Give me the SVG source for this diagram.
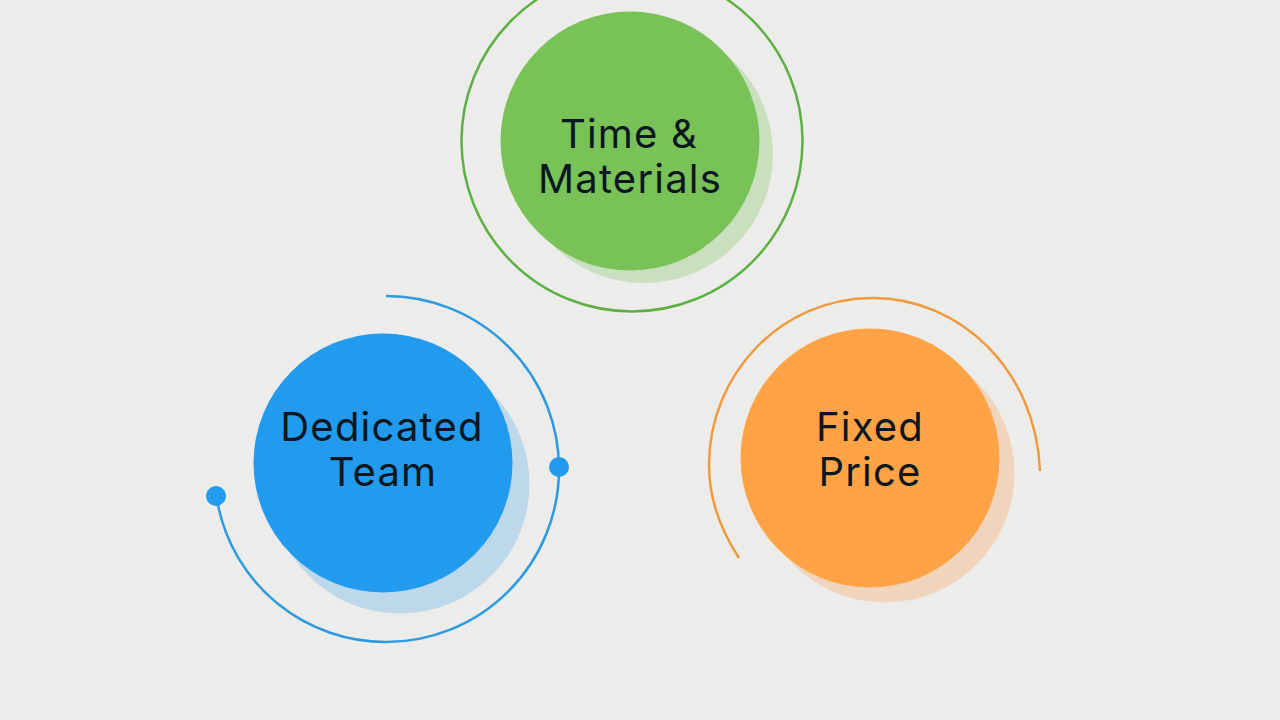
<svg xmlns="http://www.w3.org/2000/svg" width="1280" height="720" viewBox="0 0 1280 720">
<style>
text{font-family:"Inter","DejaVu Sans",sans-serif;font-size:40px;letter-spacing:1.2px;fill:#0a1620;text-anchor:middle}
.ring{fill:none;stroke-width:2.5;stroke-linecap:butt}
</style>
<rect width="1280" height="720" fill="#ececeb"/>
<g id="time-materials">
<circle cx="644" cy="154" r="129" fill="#c9e0bf"/>
<circle cx="630" cy="141" r="129.500" fill="#78c257"/>
<circle class="ring" cx="632" cy="141" r="170.500" stroke="#5cb043"/>
<text x="629" y="148">Time &amp;</text>
<text x="630" y="193">Materials</text>
</g>
<g id="dedicated-team">
<circle cx="400" cy="484" r="129.500" fill="#bcd8ea"/>
<circle cx="383" cy="463" r="129.500" fill="#229bee"/>
<path class="ring" stroke="#2d9ae0" d="M386 296A173 173 0 0 1 386 642A171 171 0 0 1 218 505"/>
<circle cx="559" cy="467" r="10" fill="#229bee"/>
<circle cx="216" cy="496" r="10" fill="#229bee"/>
<text x="382" y="441">Dedicated</text>
<text x="383" y="486">Team</text>
</g>
<g id="fixed-price">
<circle cx="885" cy="473" r="129.500" fill="#f0d4bc"/>
<circle cx="870" cy="458" r="129.500" fill="#ffa346"/>
<path class="ring" stroke="#f09a3e" d="M1040 471C1036 370 960 298 873 298C780 298 709 375 709 465C709 500 722 532 739 558"/>
<text x="870" y="441">Fixed</text>
<text x="870" y="486">Price</text>
</g>
</svg>
